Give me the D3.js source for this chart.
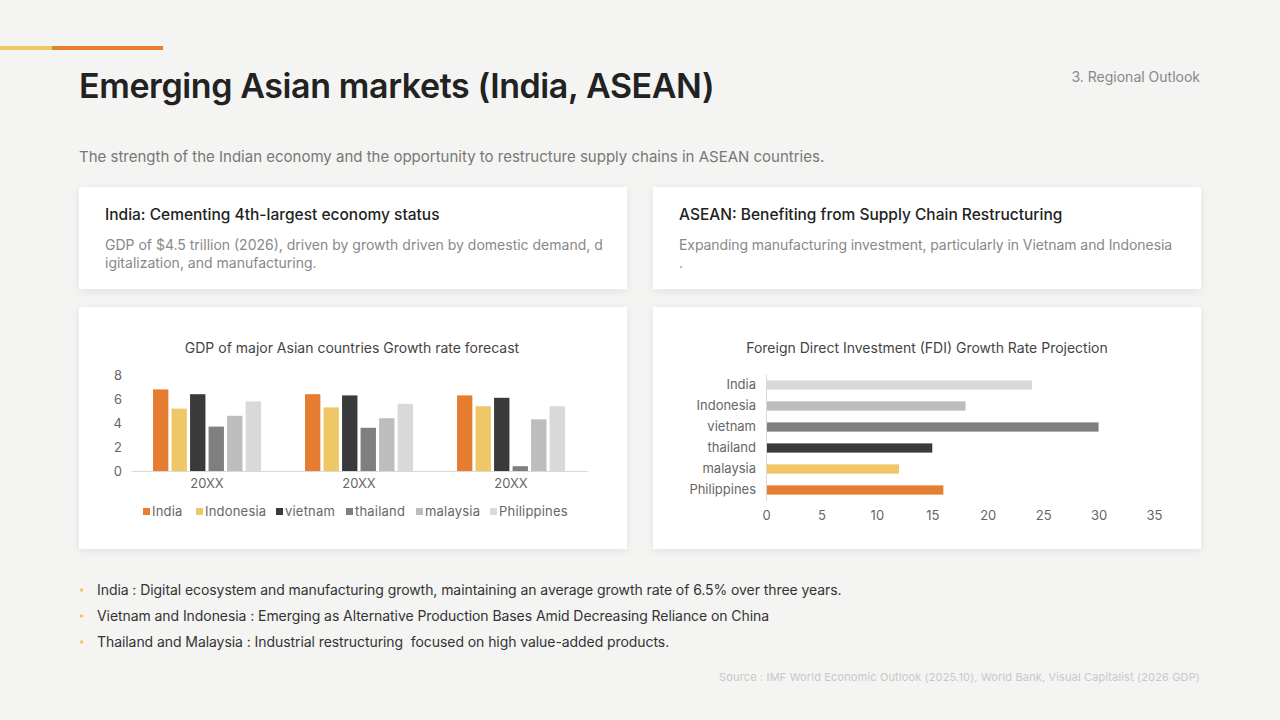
<!DOCTYPE html>
<html><head><meta charset="utf-8">
<script src="https://cdn.jsdelivr.net/npm/d3@7"></script>
<style>
html,body{margin:0;padding:0;background:#f4f4f3;}
svg{display:block;font-family:Inter,"Noto Sans",sans-serif;}
</style></head>
<body>
<svg id="c" width="1280" height="720"></svg>
<script>
// ---- data ----
const countries = ["India","Indonesia","vietnam","thailand","malaysia","Philippines"];
const years = ["20XX","20XX","20XX"];
const gdpIndia = [6.8, 6.4, 6.3];
const gdpIndonesia = [5.2, 5.3, 5.4];
const gdpVietnam = [6.4, 6.3, 6.1];
const gdpThailand = [3.7, 3.6, 0.4];
const gdpMalaysia = [4.6, 4.4, 4.3];
const gdpPhilippines = [5.8, 5.6, 5.4];
const gdpTicks = [0, 2, 4, 6, 8];
const fdiCountries = ["India","Indonesia","vietnam","thailand","malaysia","Philippines"];
const fdiValues = [24, 18, 30, 15, 12, 16];
const fdiTicks = [0, 5, 10, 15, 20, 25, 30, 35];
const seriesColors = ["#e57e31","#f0c766","#3a3a3a","#7f7f7f","#bdbdbd","#d9d9d9"];
const fdiColors = ["#d9d9d9","#bdbdbd","#7f7f7f","#3a3a3a","#f0c766","#e57e31"];

const svg = d3.select("#c");

// top accent bars
svg.append("rect").attr("x",0).attr("y",46).attr("width",52).attr("height",4).attr("fill","#f0c766");
svg.append("rect").attr("x",52).attr("y",46).attr("width",111).attr("height",4).attr("fill","#e57e31");

svg.append("text").attr("x",79).attr("y",98).attr("font-size",34).attr("font-weight",600)
  .attr("fill","#222").attr("letter-spacing","-0.4").text("Emerging Asian markets (India, ASEAN)");
svg.append("text").attr("x",1200).attr("y",82).attr("text-anchor","end").attr("font-size",14)
  .attr("fill","#888").text("3. Regional Outlook");
svg.append("text").attr("x",79).attr("y",162).attr("font-size",15).attr("fill","#777")
  .text("The strength of the Indian economy and the opportunity to restructure supply chains in ASEAN countries.");

// shadow filter
const defs = svg.append("defs");
const f = defs.append("filter").attr("id","sh").attr("x","-10%").attr("y","-20%").attr("width","120%").attr("height","140%");
f.append("feDropShadow").attr("dx",0).attr("dy",2).attr("stdDeviation",4).attr("flood-color","#000").attr("flood-opacity",0.08);

function card(x,y,w,h){
  svg.append("rect").attr("x",x).attr("y",y).attr("width",w).attr("height",h).attr("fill","#fff").attr("filter","url(#sh)");
}
card(79,187,548,102);
card(653,187,548,102);
card(79,307,548,242);
card(653,307,548,242);

// card texts
svg.append("text").attr("x",105).attr("y",220).attr("font-size",15.5).attr("font-weight",500).attr("fill","#222")
  .text("India: Cementing 4th-largest economy status");
svg.append("text").attr("x",105).attr("y",250).attr("font-size",14).attr("fill","#888")
  .text("GDP of $4.5 trillion (2026), driven by growth driven by domestic demand, d");
svg.append("text").attr("x",105).attr("y",268).attr("font-size",14).attr("fill","#888")
  .text("igitalization, and manufacturing.");
svg.append("text").attr("x",679).attr("y",220).attr("font-size",15.5).attr("font-weight",500).attr("fill","#222")
  .text("ASEAN: Benefiting from Supply Chain Restructuring");
svg.append("text").attr("x",679).attr("y",250).attr("font-size",14).attr("fill","#888").attr("letter-spacing","-0.08")
  .text("Expanding manufacturing investment, particularly in Vietnam and Indonesia");
svg.append("text").attr("x",679).attr("y",268).attr("font-size",14).attr("fill","#888").text(".");

// ---- left chart: grouped bars ----
const gdpSeries = [gdpIndia, gdpIndonesia, gdpVietnam, gdpThailand, gdpMalaysia, gdpPhilippines];
svg.append("text").attr("x",352).attr("y",353).attr("text-anchor","middle").attr("font-size",14).attr("fill","#444")
  .text("GDP of major Asian countries Growth rate forecast");
const x0 = d3.scaleBand().domain(d3.range(years.length)).range([131,587]).paddingInner(0).paddingOuter(0);
const x1 = d3.scaleBand().domain(d3.range(countries.length)).range([22, x0.bandwidth()-22]).paddingInner(0.17).paddingOuter(0);
const yL = d3.scaleLinear().domain([0,8]).range([471,375]);
const gL = svg.append("g");
years.forEach((yr,i)=>{
  gdpSeries.forEach((s,j)=>{
    gL.append("rect").attr("x",x0(i)+x1(j)).attr("width",x1.bandwidth())
      .attr("y",yL(s[i])).attr("height",yL(0)-yL(s[i])).attr("fill",seriesColors[j]);
  });
});
const yAxisL = d3.axisLeft(yL).tickValues(gdpTicks).tickSize(0).tickPadding(0);
const ya = svg.append("g").attr("transform","translate(122,0)").call(yAxisL);
ya.select(".domain").remove();
ya.selectAll("text").attr("font-size",13).attr("fill","#666").attr("font-family","Inter,'Noto Sans',sans-serif");
const xAxisL = d3.axisBottom(x0).tickFormat(i=>years[i]).tickSize(0).tickPadding(8);
const xa = svg.append("g").attr("transform","translate(0,471)").call(xAxisL);
xa.select(".domain").attr("stroke","#d9d9d9");
xa.selectAll("text").attr("font-size",13).attr("fill","#666").attr("font-family","Inter,'Noto Sans',sans-serif");
// legend
const legX = [143,196,276,346,416,490];
countries.forEach((c,j)=>{
  svg.append("rect").attr("x",legX[j]).attr("y",508).attr("width",7).attr("height",7).attr("fill",seriesColors[j]);
  svg.append("text").attr("x",legX[j]+9).attr("y",516).attr("font-size",13).attr("fill","#666")
    .attr("letter-spacing","0.2").text(c);
});

// ---- right chart: horizontal bars ----
svg.append("text").attr("x",927).attr("y",353).attr("text-anchor","middle").attr("font-size",14).attr("fill","#444")
  .text("Foreign Direct Investment (FDI) Growth Rate Projection");
const xR = d3.scaleLinear().domain([0,35]).range([766,1154]);
const yR = d3.scaleBand().domain(fdiCountries).range([374.5,500.5]).paddingInner(0.56).paddingOuter(0.28);
fdiCountries.forEach((c,i)=>{
  svg.append("rect").attr("x",xR(0)).attr("y",yR(c)).attr("width",xR(fdiValues[i])-xR(0))
    .attr("height",yR.bandwidth()).attr("fill",fdiColors[i]);
});
const yaR = svg.append("g").attr("transform","translate(766,0)").call(d3.axisLeft(yR).tickSize(0).tickPadding(10));
yaR.select(".domain").attr("stroke","#d9d9d9");
yaR.selectAll("text").attr("font-size",13).attr("fill","#666").attr("font-family","Inter,'Noto Sans',sans-serif");
const xaR = svg.append("g").attr("transform","translate(0,505)").call(d3.axisBottom(xR).tickValues(fdiTicks).tickSize(0).tickPadding(6));
xaR.select(".domain").remove();
xaR.selectAll("text").attr("font-size",13).attr("fill","#666").attr("font-family","Inter,'Noto Sans',sans-serif");

// bullets
const bullets = [
  "India : Digital ecosystem and manufacturing growth, maintaining an average growth rate of 6.5% over three years.",
  "Vietnam and Indonesia : Emerging as Alternative Production Bases Amid Decreasing Reliance on China",
  "Thailand and Malaysia : Industrial restructuring  focused on high value-added products."
];
bullets.forEach((b,i)=>{
  const yy = 590 + i*26;
  svg.append("circle").attr("cx",81.5).attr("cy",yy).attr("r",1.8).attr("fill","#f0c766");
  svg.append("text").attr("x",97).attr("y",yy+5).attr("font-size",14).attr("fill","#333")
    .attr("letter-spacing","-0.07").style("white-space","pre").text(b);
});
svg.append("text").attr("x",1200).attr("y",681).attr("text-anchor","end").attr("font-size",11).attr("fill","#c8c8c8")
  .attr("letter-spacing","0.15").text("Source : IMF World Economic Outlook (2025.10), World Bank, Visual Capitalist (2026 GDP)");
</script>
</body></html>
